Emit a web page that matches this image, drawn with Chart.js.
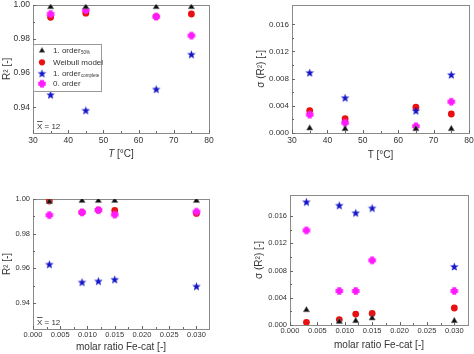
<!DOCTYPE html>
<html>
<head>
<meta charset="utf-8">
<script src="https://cdn.jsdelivr.net/npm/chart.js@4"></script>
<style>
  body { margin: 0; background: #fff; }
  #wrap { position: relative; width: 474px; height: 354px; overflow: hidden; }
  canvas { position: absolute; }
</style>
</head>
<body>
<div id="wrap">
  <canvas id="cTL" width="237" height="177" style="left:0;top:0"></canvas>
  <canvas id="cTR" width="237" height="177" style="left:237px;top:0"></canvas>
  <canvas id="cBL" width="237" height="177" style="left:0;top:177px"></canvas>
  <canvas id="cBR" width="237" height="177" style="left:237px;top:177px"></canvas>
</div>
<script>
// temperature series
const temps = [35, 45, 65, 75];
const r2Order50T = [0.9986, 0.9986, 0.9986, 0.9986];
const r2WeibullT = [0.9926, 0.9950, 0.9930, 0.9945];
const r2CompleteT = [0.9474, 0.9383, 0.9507, 0.9710];
const r2Order0T = [0.9945, 0.9968, 0.9930, 0.9819];

const sdOrder50T = [0.0007, 0.0006, 0.0006, 0.0006];
const sdWeibullT = [0.0033, 0.0021, 0.0038, 0.0028];
const sdCompleteT = [0.0089, 0.0052, 0.0033, 0.0086];
const sdOrder0T = [0.0027, 0.0015, 0.0010, 0.0046];

// molar ratio series
const ratios = [0.003, 0.009, 0.012, 0.015, 0.030];
const r2Order50R = [0.9985, 0.9990, 0.9990, 0.9990, 0.9990];
const r2WeibullR = [0.9988, 0.9923, 0.9936, 0.9934, 0.9917];
const r2CompleteR = [0.9624, 0.9521, 0.9527, 0.9537, 0.9497];
const r2Order0R = [0.9907, 0.9923, 0.9936, 0.9910, 0.9927];

const sdOrder50R = [0.0022, 0.0005, 0.0006, 0.0010, 0.0006];
const sdWeibullR = [0.0004, 0.0008, 0.0016, 0.0017, 0.0025];
const sdCompleteR = [0.0181, 0.0176, 0.0165, 0.0172, 0.0086];
const sdOrder0R = [0.0139, 0.0050, 0.0050, 0.0095, 0.0050];

// tick labels
const tempTicks = [30, 40, 50, 60, 70, 80];
const ratioTicks = [0, 0.005, 0.010, 0.015, 0.020, 0.025, 0.030];
const r2Ticks = [0.94, 0.96, 0.98, 1.00];
const sdTicks = [0, 0.004, 0.008, 0.012, 0.016];

const legendNames = [['1. order', '50%'], ['Weibull model', ''], ['1. order', 'complete'], ['0. order', '']];

const FONT = 'Liberation Sans, Arial, sans-serif';
const TXT = '#333';

function starImg(r, color) {
  const c = document.createElement('canvas');
  c.width = c.height = Math.ceil(r * 2 + 2);
  const g = c.getContext('2d');
  const m = c.width / 2;
  g.beginPath();
  for (let i = 0; i < 10; i++) {
    const a = -Math.PI / 2 + i * Math.PI / 5;
    const rr = i % 2 ? r * 0.42 : r;
    g.lineTo(m + rr * Math.cos(a), m + 0.5 + rr * Math.sin(a));
  }
  g.closePath();
  g.fillStyle = color;
  g.fill();
  return c;
}

function blobImg(r, color) {
  const c = document.createElement('canvas');
  c.width = c.height = Math.ceil(r * 2 + 2);
  const g = c.getContext('2d');
  const m = c.width / 2;
  g.fillStyle = color;
  g.beginPath();
  g.arc(m, m, r * 0.8, 0, Math.PI * 2);
  g.fill();
  const w = r * 0.55;
  g.fillRect(m - w, m - r, w * 2, r * 2);
  g.fillRect(m - r, m - w, r * 2, w * 2);
  return c;
}

const starBlue = starImg(4.5, '#1414c8');
const blobPink = blobImg(3.7, '#ff1aff');

function pts(xs, ys) {
  return xs.map((x, i) => ({x: x, y: ys[i]}));
}

function sets(xs, o50, wb, cp, o0) {
  return [
    {data: pts(xs, o50), pointStyle: 'triangle', radius: 3.6, backgroundColor: '#111', borderColor: '#777', borderWidth: 0.6, order: 1},
    {data: pts(xs, o0), pointStyle: blobPink, order: 2},
    {data: pts(xs, cp), pointStyle: starBlue, order: 3},
    {data: pts(xs, wb), pointStyle: 'circle', radius: 3.4, backgroundColor: '#e81010', borderColor: '#e81010', borderWidth: 0, order: 4}
  ];
}

const frame = {
  id: 'frame',
  beforeDatasetsDraw(chart) {
    const a = chart.chartArea, ctx = chart.ctx;
    ctx.save();
    ctx.strokeStyle = '#8a8a8a';
    ctx.lineWidth = 1;
    ctx.strokeRect(Math.round(a.left) + 0.5, Math.round(a.top) + 0.5, Math.round(a.right - a.left), Math.round(a.bottom - a.top));
    // inward ticks, major and minor
    ctx.strokeStyle = '#666';
    const xs = chart.scales.x, ys = chart.scales.y;
    const xv = xs.ticks.map(t => t.value), yv = ys.ticks.map(t => t.value);
    ctx.beginPath();
    xv.forEach((v, i) => {
      const p = Math.round(xs.getPixelForValue(v)) + 0.5;
      ctx.moveTo(p, a.bottom); ctx.lineTo(p, a.bottom - 3);
      if (i < xv.length - 1) {
        const q = Math.round(xs.getPixelForValue((v + xv[i + 1]) / 2)) + 0.5;
        ctx.moveTo(q, a.bottom); ctx.lineTo(q, a.bottom - 2);
      }
    });
    yv.forEach((v, i) => {
      const p = Math.round(ys.getPixelForValue(v)) + 0.5;
      ctx.moveTo(a.left, p); ctx.lineTo(a.left + 3, p);
      if (i < yv.length - 1) {
        const q = Math.round(ys.getPixelForValue((v + yv[i + 1]) / 2)) + 0.5;
        ctx.moveTo(a.left, q); ctx.lineTo(a.left + 2, q);
      }
    });
    ctx.stroke();
    ctx.restore();
  }
};

function xbar(chart, x, y) {
  const ctx = chart.ctx;
  ctx.save();
  ctx.fillStyle = TXT;
  ctx.font = '8px ' + FONT;
  ctx.textBaseline = 'alphabetic';
  ctx.fillText('X', x, y);
  ctx.fillRect(x, y - 8, 5.5, 0.8);
  ctx.fillText(' = 12', x + 5.3, y);
  ctx.restore();
}

const legendPlugin = {
  id: 'legendBox',
  afterDatasetsDraw(chart) {
    const ctx = chart.ctx;
    const a = chart.chartArea;
    ctx.save();
    ctx.fillStyle = '#fff';
    ctx.fillRect(a.left, 44, 68, 47);
    ctx.strokeStyle = '#9a9a9a';
    ctx.lineWidth = 1;
    ctx.strokeRect(a.left + 0.5, 44.5, 68, 47);
    const rows = [50.7, 62.3, 73.3, 83.7];
    const metas = [0, 3, 2, 1];
    rows.forEach((ry, i) => {
      const ds = chart.data.datasets[metas[i]];
      const mx = 42;
      if (ds.pointStyle === 'triangle') {
        ctx.fillStyle = '#111'; ctx.strokeStyle = '#777'; ctx.lineWidth = 0.6;
        ctx.beginPath();
        const r = 3.2;
        ctx.moveTo(mx, ry - r); ctx.lineTo(mx + r * 0.87, ry + r * 0.5); ctx.lineTo(mx - r * 0.87, ry + r * 0.5); ctx.closePath();
        ctx.fill(); ctx.stroke();
      } else if (ds.pointStyle === 'circle') {
        ctx.fillStyle = '#e81010';
        ctx.beginPath(); ctx.arc(mx, ry, 3.1, 0, Math.PI * 2); ctx.fill();
      } else {
        const img = ds.pointStyle;
        ctx.drawImage(img, mx - img.width / 2, ry - img.height / 2);
      }
      ctx.fillStyle = TXT;
      ctx.font = '8px ' + FONT;
      ctx.textBaseline = 'middle';
      const [main, sub] = legendNames[i];
      ctx.fillText(main, 53, ry);
      if (sub) {
        const w = ctx.measureText(main).width;
        ctx.font = '4.5px ' + FONT;
        ctx.fillText(sub, 53 + w + 0.5, ry + 2.5);
      }
    });
    ctx.restore();
    xbar(chart, 37, 129);
  }
};

const xbarBL = {
  id: 'xbarBL',
  afterDatasetsDraw(chart) { xbar(chart, 37, 148); }
};

const italicTitle = {
  id: 'italicTitle',
  afterDraw(chart) {
    const ctx = chart.ctx;
    const a = chart.chartArea;
    ctx.save();
    ctx.fillStyle = TXT;
    ctx.textBaseline = 'middle';
    ctx.font = 'italic 10px ' + FONT;
    const t1 = 'T', t2 = ' [°C]';
    const w1 = ctx.measureText(t1).width;
    ctx.font = '10px ' + FONT;
    const w2 = ctx.measureText(t2).width;
    const x0 = (a.left + a.right) / 2 - (w1 + w2) / 2;
    ctx.font = 'italic 10px ' + FONT;
    ctx.fillText(t1, x0, 154);
    ctx.font = '10px ' + FONT;
    ctx.fillText(t2, x0 + w1, 154);
    ctx.restore();
  }
};

function makeChart(id, box, xc, yc, datasets, plugins) {
  const W = 237, H = 177;
  const fixPad = s => { s.paddingLeft = 0; s.paddingRight = 0; s.paddingTop = 0; s.paddingBottom = 0; };
  return new Chart(document.getElementById(id), {
    type: 'scatter',
    data: {datasets: datasets},
    options: {
      responsive: false,
      animation: false,
      events: [],
      layout: {padding: {left: 0, top: box.t, right: W - box.r, bottom: 0}},
      plugins: {legend: {display: false}, tooltip: {enabled: false}},
      elements: {point: {radius: 4, borderWidth: 0}},
      scales: {
        x: {
          type: 'linear', min: xc.min, max: xc.max,
          grid: {display: false, drawTicks: false},
          border: {display: false},
          afterBuildTicks: s => { s.ticks = xc.ticks.map(v => ({value: v})); },
          afterFit: s => { s.height = H - box.b; fixPad(s); },
          ticks: {
            color: TXT, font: {family: FONT, size: xc.fs}, padding: xc.pad,
            maxRotation: 0, autoSkip: false,
            callback: v => xc.fmt(v)
          },
          title: {display: !!xc.title, text: xc.title, color: TXT, font: {family: FONT, size: 10}, padding: {top: 0, bottom: xc.tpad}}
        },
        y: {
          type: 'linear', min: yc.min, max: yc.max,
          grid: {display: false, drawTicks: false},
          border: {display: false},
          afterBuildTicks: s => { s.ticks = yc.ticks.map(v => ({value: v})); },
          afterFit: s => { s.width = box.l; fixPad(s); },
          ticks: {
            color: TXT, font: {family: FONT, size: yc.fs}, padding: 3,
            callback: v => yc.fmt(v)
          },
          title: {display: true, text: yc.title, color: TXT, font: {family: FONT, size: 10}, padding: {top: yc.tpad, bottom: 0}}
        }
      }
    },
    plugins: [frame].concat(plugins || [])
  });
}

const fmtInt = v => String(Math.round(v));
const fmt2 = v => v.toFixed(2);
const fmt3 = v => v.toFixed(3);

makeChart('cTL', {l: 33, t: 2, r: 209, b: 133},
  {min: 30, max: 80, ticks: tempTicks, fmt: fmtInt, fs: 8.5, pad: 3, title: ''},
  {min: 0.925, max: 1.0, ticks: r2Ticks, fmt: fmt2, fs: 8.5, title: 'R² [-]', tpad: 1},
  sets(temps, r2Order50T, r2WeibullT, r2CompleteT, r2Order0T),
  [legendPlugin, italicTitle]);

makeChart('cTR', {l: 55, t: 3, r: 232, b: 133},
  {min: 30, max: 80, ticks: tempTicks, fmt: fmtInt, fs: 8.5, pad: 3, title: 'T [°C]', tpad: 16},
  {min: 0, max: 0.0189, ticks: sdTicks, fmt: fmt3, fs: 8, title: 'σ (R²) [-]', tpad: 18},
  sets(temps, sdOrder50T, sdWeibullT, sdCompleteT, sdOrder0T));

makeChart('cBL', {l: 33, t: 22, r: 209, b: 152},
  {min: 0, max: 0.0323, ticks: ratioTicks, fmt: fmt3, fs: 7.5, pad: 1, title: 'molar ratio Fe-cat [-]', tpad: 1},
  {min: 0.925, max: 1.0, ticks: r2Ticks, fmt: fmt2, fs: 7.5, title: 'R² [-]', tpad: 1},
  sets(ratios, r2Order50R, r2WeibullR, r2CompleteR, r2Order0R),
  [xbarBL]);

makeChart('cBR', {l: 53, t: 18, r: 231, b: 148},
  {min: 0, max: 0.0325, ticks: ratioTicks, fmt: fmt3, fs: 7.5, pad: 1, title: 'molar ratio Fe-cat [-]', tpad: 3},
  {min: 0, max: 0.0191, ticks: sdTicks, fmt: fmt3, fs: 7.5, title: 'σ (R²) [-]', tpad: 16},
  sets(ratios, sdOrder50R, sdWeibullR, sdCompleteR, sdOrder0R));
</script>
</body>
</html>
